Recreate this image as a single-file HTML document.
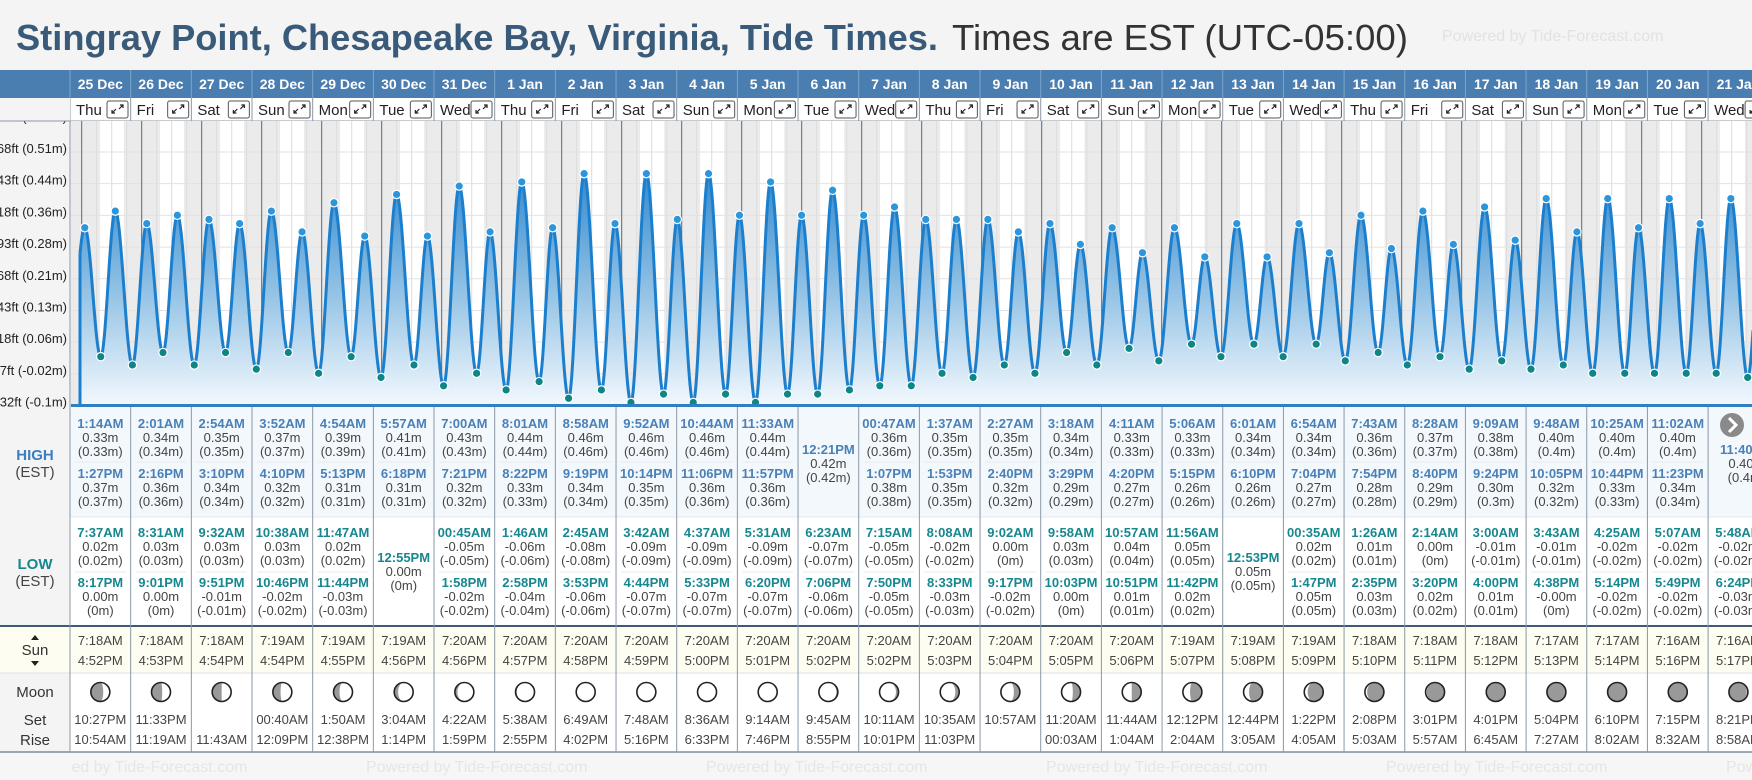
<!DOCTYPE html>
<html><head><meta charset="utf-8">
<style>
html,body{margin:0;padding:0;background:#f4f4f4;}
svg{display:block;font-family:"Liberation Sans",sans-serif;}
</style></head>
<body>
<svg id="page" width="1752" height="780" viewBox="0 0 1752 780" xmlns="http://www.w3.org/2000/svg">
<defs>
<linearGradient id="fillGrad" gradientUnits="userSpaceOnUse" x1="0" y1="170" x2="0" y2="405">
<stop offset="0" stop-color="#2f88cf"/><stop offset="0.5" stop-color="#8fc0e4"/><stop offset="1" stop-color="#f2f8fd"/>
</linearGradient>
<clipPath id="chartClip"><rect x="71" y="121" width="1681" height="284"/></clipPath>
<clipPath id="footClip"><rect x="71" y="752" width="1681" height="28"/></clipPath>
</defs>
<rect x="0" y="0" width="1752" height="780" fill="#f4f4f4"/>
<text x="16" y="50" font-size="36" font-weight="bold" fill="#395a79" textLength="922" lengthAdjust="spacingAndGlyphs">Stingray Point, Chesapeake Bay, Virginia, Tide Times.</text>
<text x="952" y="50" font-size="36" fill="#333" textLength="456" lengthAdjust="spacingAndGlyphs">Times are EST (UTC-05:00)</text>
<text x="1442" y="41" font-size="16" fill="#e2e2e2">Powered by Tide-Forecast.com</text>
<g id="root"></g>
</svg>
<script>
// ---- data ----
const dates = ['25 Dec','26 Dec','27 Dec','28 Dec','29 Dec','30 Dec','31 Dec','1 Jan','2 Jan','3 Jan','4 Jan','5 Jan','6 Jan','7 Jan','8 Jan','9 Jan','10 Jan','11 Jan','12 Jan','13 Jan','14 Jan','15 Jan','16 Jan','17 Jan','18 Jan','19 Jan','20 Jan','21 Jan'];
const dows = ['Thu','Fri','Sat','Sun','Mon','Tue','Wed','Thu','Fri','Sat','Sun','Mon','Tue','Wed','Thu','Fri','Sat','Sun','Mon','Tue','Wed','Thu','Fri','Sat','Sun','Mon','Tue','Wed'];
const highTimes = [['1:14AM','1:27PM'],['2:01AM','2:16PM'],['2:54AM','3:10PM'],['3:52AM','4:10PM'],['4:54AM','5:13PM'],['5:57AM','6:18PM'],['7:00AM','7:21PM'],['8:01AM','8:22PM'],['8:58AM','9:19PM'],['9:52AM','10:14PM'],['10:44AM','11:06PM'],['11:33AM','11:57PM'],['12:21PM'],['00:47AM','1:07PM'],['1:37AM','1:53PM'],['2:27AM','2:40PM'],['3:18AM','3:29PM'],['4:11AM','4:20PM'],['5:06AM','5:15PM'],['6:01AM','6:10PM'],['6:54AM','7:04PM'],['7:43AM','7:54PM'],['8:28AM','8:40PM'],['9:09AM','9:24PM'],['9:48AM','10:05PM'],['10:25AM','10:44PM'],['11:02AM','11:23PM'],['11:40AM']];
const highVals = [[0.33,0.37],[0.34,0.36],[0.35,0.34],[0.37,0.32],[0.39,0.31],[0.41,0.31],[0.43,0.32],[0.44,0.33],[0.46,0.34],[0.46,0.35],[0.46,0.36],[0.44,0.36],[0.42],[0.36,0.38],[0.35,0.35],[0.35,0.32],[0.34,0.29],[0.33,0.27],[0.33,0.26],[0.34,0.26],[0.34,0.27],[0.36,0.28],[0.37,0.29],[0.38,0.30],[0.40,0.32],[0.40,0.33],[0.40,0.34],[0.40]];
const lowTimes = [['7:37AM','8:17PM'],['8:31AM','9:01PM'],['9:32AM','9:51PM'],['10:38AM','10:46PM'],['11:47AM','11:44PM'],['12:55PM'],['00:45AM','1:58PM'],['1:46AM','2:58PM'],['2:45AM','3:53PM'],['3:42AM','4:44PM'],['4:37AM','5:33PM'],['5:31AM','6:20PM'],['6:23AM','7:06PM'],['7:15AM','7:50PM'],['8:08AM','8:33PM'],['9:02AM','9:17PM'],['9:58AM','10:03PM'],['10:57AM','10:51PM'],['11:56AM','11:42PM'],['12:53PM'],['00:35AM','1:47PM'],['1:26AM','2:35PM'],['2:14AM','3:20PM'],['3:00AM','4:00PM'],['3:43AM','4:38PM'],['4:25AM','5:14PM'],['5:07AM','5:49PM'],['5:48AM','6:24PM']];
const lowVals = [[0.02,0.00],[0.03,0.00],[0.03,-0.01],[0.03,-0.02],[0.02,-0.03],[0.00],[-0.05,-0.02],[-0.06,-0.04],[-0.08,-0.06],[-0.09,-0.07],[-0.09,-0.07],[-0.09,-0.07],[-0.07,-0.06],[-0.05,-0.05],[-0.02,-0.03],[0.00,-0.02],[0.03,0.00],[0.04,0.01],[0.05,0.02],[0.05],[0.02,0.05],[0.01,0.03],[0.00,0.02],[-0.01,0.01],[-0.01,-0],[-0.02,-0.02],[-0.02,-0.02],[-0.02,-0.03]];
const prevLow = {day:-1, time:'6:30PM', val:0.00};
const nextHigh = {day:28, time:'12:05AM', val:0.34};
const sunRise = ['7:18AM','7:18AM','7:18AM','7:19AM','7:19AM','7:19AM','7:20AM','7:20AM','7:20AM','7:20AM','7:20AM','7:20AM','7:20AM','7:20AM','7:20AM','7:20AM','7:20AM','7:20AM','7:19AM','7:19AM','7:19AM','7:18AM','7:18AM','7:18AM','7:17AM','7:17AM','7:16AM','7:16AM'];
const sunSet = ['4:52PM','4:53PM','4:54PM','4:54PM','4:55PM','4:56PM','4:56PM','4:57PM','4:58PM','4:59PM','5:00PM','5:01PM','5:02PM','5:02PM','5:03PM','5:04PM','5:05PM','5:06PM','5:07PM','5:08PM','5:09PM','5:10PM','5:11PM','5:12PM','5:13PM','5:14PM','5:16PM','5:17PM'];
const moonSet = ['10:27PM','11:33PM','','00:40AM','1:50AM','3:04AM','4:22AM','5:38AM','6:49AM','7:48AM','8:36AM','9:14AM','9:45AM','10:11AM','10:35AM','10:57AM','11:20AM','11:44AM','12:12PM','12:44PM','1:22PM','2:08PM','3:01PM','4:01PM','5:04PM','6:10PM','7:15PM','8:21PM'];
const moonRise = ['10:54AM','11:19AM','11:43AM','12:09PM','12:38PM','1:14PM','1:59PM','2:55PM','4:02PM','5:16PM','6:33PM','7:46PM','8:55PM','10:01PM','11:03PM','','00:03AM','1:04AM','2:04AM','3:05AM','4:05AM','5:03AM','5:57AM','6:45AM','7:27AM','8:02AM','8:32AM','8:58AM'];
const moonPhase = [0.20,0.23,0.25,0.28,0.31,0.35,0.38,0.42,0.45,0.49,0.52,0.55,0.59,0.62,0.65,0.69,0.72,0.75,0.79,0.82,0.86,0.89,0.92,0.96,0.99,0.02,0.05,0.08];
const yTicksFt = ['-0.32ft','-0.07ft','0.18ft','0.43ft','0.68ft','0.93ft','1.18ft','1.43ft','1.68ft','1.93ft'];
const yTicksM = [-0.1,-0.02,0.06,0.13,0.21,0.28,0.36,0.44,0.51,0.59];
const yTicksExact = [-0.0975,-0.0213,0.0549,0.1311,0.2073,0.2835,0.3597,0.4359,0.5121,0.5883];

// ---- scales ----
const NS='http://www.w3.org/2000/svg';
const root=document.getElementById('root');
const COLX0=70, COLW=60.67, MID0=81.7, DAYW=60;
const colX=i=>COLX0+COLW*i;
const xTime=d=>MID0+DAYW*d;
const yScale=m=>365-416*m;
function parseT(s){const m=s.match(/(\d+):(\d+)(AM|PM)/);let h=parseInt(m[1],10)%12;if(m[3]==='PM')h+=12;return (h+parseInt(m[2],10)/60)/24;}
function el(tag,attrs,parent,text){const e=document.createElementNS(NS,tag);for(const k in attrs)e.setAttribute(k,attrs[k]);if(text!==undefined)e.textContent=text;(parent||root).appendChild(e);return e;}
function fmt(v){return (Object.is(v,-0)?'-0.00':v.toFixed(2))+'m';}
function fmtP(v){return '('+String(parseFloat(v.toFixed(2)))+'m)';}

// ---- header rows ----
el('rect',{x:0,y:70,width:1752,height:28,fill:'#4a7db0'});
el('rect',{x:0,y:98,width:70,height:23,fill:'#f4f4f4'});
el('rect',{x:70,y:98,width:1682,height:23,fill:'#fff'});
dates.forEach((d,i)=>{
  const x=colX(i);
  const t=el('text',{x:x+COLW/2,y:89,'text-anchor':'middle','font-size':14,'font-weight':'bold',fill:'#fff'},root,d);
  
  
  el('line',{x1:x,y1:70,x2:x,y2:98,stroke:'#7ea6cc','stroke-width':1});
  const dt=el('text',{x:x+6,y:115,'font-size':15,fill:'#222'},root,dows[i]);
  
  
  const b=el('g',{},root);
  
  
  el('rect',{x:x+37,y:101,width:21,height:17,rx:2,fill:'#fff',stroke:'#555','stroke-width':1},b);
  el('path',{d:`M${x+42} 113l4-4M${x+42} 110v3h3M${x+53} 105l-4 4M${x+50} 105h3v3`,stroke:'#222','stroke-width':1.2,fill:'none'},b);
  el('line',{x1:x,y1:98,x2:x,y2:121,stroke:'#8a98a6','stroke-width':1});
});
el('line',{x1:0,y1:121,x2:1752,y2:121,stroke:'#8a98a6','stroke-width':1});

// ---- chart ----
const chart=el('g',{'clip-path':'url(#chartClip)'});


el('rect',{x:71,y:121,width:1681,height:284,fill:'#ebebeb'},chart);
for(let i=-1;i<28;i++){
  const sr=xTime(i+parseT(sunRise[Math.max(i,0)])), ss=xTime(i+parseT(sunSet[Math.max(i,0)]));
  const r=el('rect',{x:sr,y:121,width:ss-sr,height:284,fill:'#fff'},chart);
  
  
  for(let h=6;h<24;h+=6) el('line',{x1:xTime(i+h/24),y1:121,x2:xTime(i+h/24),y2:405,stroke:'#dcdcdc','stroke-width':1},chart);
}
yTicksExact.forEach(m=>el('line',{x1:71,y1:yScale(m),x2:1752,y2:yScale(m),stroke:'#e2e2e2','stroke-width':1},chart));
for(let i=0;i<=28;i++){
  const l=el('line',{x1:xTime(i),y1:121,x2:xTime(i),y2:405,stroke:'#56697c','stroke-width':1},chart);
  
  
}
const ext=[];
ext.push({t:prevLow.day+parseT(prevLow.time),v:prevLow.val,type:'x'});
for(let i=0;i<28;i++){
  highTimes[i].forEach((s,j)=>ext.push({t:i+parseT(s),v:highVals[i][j],type:'h'}));
  lowTimes[i].forEach((s,j)=>ext.push({t:i+parseT(s),v:lowVals[i][j],type:'l'}));
}
ext.push({t:nextHigh.day+parseT(nextHigh.time),v:nextHigh.val,type:'x'});
ext.sort((a,b)=>a.t-b.t);
function tideAt(t){
  for(let k=0;k<ext.length-1;k++){const a=ext[k],b=ext[k+1];if(t>=a.t&&t<=b.t){const f=(t-a.t)/(b.t-a.t);return a.v+(b.v-a.v)*(1-Math.cos(Math.PI*f))/2;}}
  return ext[ext.length-1].v;
}
let pts=[];
const xStart=80;
for(let x=xStart;x<=1753;x+=0.5){const t=(x-MID0)/DAYW;pts.push([x,yScale(tideAt(t))]);}
const line='M'+pts.map(p=>p[0].toFixed(1)+' '+p[1].toFixed(1)).join('L');
const area=el('path',{d:line+`L1753 405L${xStart} 405Z`,fill:'url(#fillGrad)'},chart);


const tl=el('path',{d:line,fill:'none',stroke:'#1c7fcd','stroke-width':3,'stroke-linejoin':'round'},chart);


el('line',{x1:xStart,y1:yScale(tideAt((xStart-MID0)/DAYW)),x2:xStart,y2:405,stroke:'#1c7fcd','stroke-width':3},chart);
ext.forEach(e=>{
  if(e.type==='x')return;
  const c=el('circle',{cx:xTime(e.t),cy:yScale(e.v),r:4.2,fill:e.type==='h'?'#2c96dc':'#0f8585',stroke:'#fff','stroke-width':1.2},chart);
  
  
});
el('line',{x1:71,y1:405.5,x2:1752,y2:405.5,stroke:'#2f7fc2','stroke-width':3});
el('line',{x1:70,y1:98,x2:70,y2:752,stroke:'#8a98a6','stroke-width':1});
yTicksExact.forEach((m,k)=>{
  const t=el('text',{x:67,y:yScale(m)+1,'text-anchor':'end','font-size':13,fill:'#222'},root,yTicksFt[k]+' ('+yTicksM[k]+'m)');
  
  
});
el('rect',{x:0,y:98,width:70,height:23,fill:'#f4f4f4'});
el('line',{x1:0,y1:121,x2:70,y2:121,stroke:'#8a98a6','stroke-width':1});

// ---- table ----
el('rect',{x:70,y:407,width:1682,height:110,fill:'#f3f8fd'});
el('rect',{x:70,y:517,width:1682,height:109,fill:'#fff'});
el('rect',{x:0,y:627,width:1752,height:46,fill:'#fdfdf1'});
el('rect',{x:70,y:673,width:1682,height:79,fill:'#fff'});
el('rect',{x:0,y:752,width:1752,height:28,fill:'#f6f6f6'});
el('line',{x1:70,y1:517,x2:1752,y2:517,stroke:'#e4e9ee','stroke-width':1});
el('line',{x1:0,y1:626,x2:1752,y2:626,stroke:'#3d5a76','stroke-width':2});
el('line',{x1:0,y1:673,x2:1752,y2:673,stroke:'#e2e2e2','stroke-width':1});
el('line',{x1:0,y1:752,x2:1752,y2:752,stroke:'#3d5a76','stroke-width':1});
function lbl(x,y,txt,size,color,weight,name){const t=el('text',{x:x,y:y,'text-anchor':'middle','font-size':size,fill:color,'font-weight':weight||'normal'},root,txt);return t;}
lbl(35,460,'HIGH',15,'#3a7fc1','bold','high-row-label');
lbl(35,477,'(EST)',15,'#444','normal','high-row-tz');
lbl(35,569,'LOW',15,'#17878f','bold','low-row-label');
lbl(35,586,'(EST)',15,'#444','normal','low-row-tz');
lbl(35,655,'Sun',15,'#333','normal','sun-row-label');
el('path',{d:'M31 640l4-5l4 5zM31 661l4 5l4-5z',fill:'#222'});
lbl(35,697,'Moon',15,'#333','normal','moon-row-label');
lbl(35,725,'Set',15,'#333','normal','moonset-row-label');
lbl(35,745,'Rise',15,'#333','normal','moonrise-row-label');

function entry(cx,yT,time,val,color,name){
  const t=el('text',{x:cx,y:yT,'text-anchor':'middle','font-size':13,'font-weight':'bold',fill:color},root,time);
  
  
  const v=el('text',{x:cx,y:yT+14,'text-anchor':'middle','font-size':13,fill:'#444'},root,fmt(val));
  
  
  el('text',{x:cx,y:yT+28,'text-anchor':'middle','font-size':13,fill:'#444'},root,fmtP(val));
}
for(let i=0;i<28;i++){
  const x=colX(i), cx=x+COLW/2;
  el('line',{x1:x,y1:407,x2:x,y2:752,stroke:'#8a98a6','stroke-width':1});
  if(highTimes[i].length===2){
    entry(cx,428,highTimes[i][0],highVals[i][0],'#4a80b8','high-tide');
    el('line',{x1:x+5,y1:462,x2:x+COLW-5,y2:462,stroke:'#e6ecf2','stroke-width':1});
    entry(cx,478,highTimes[i][1],highVals[i][1],'#4a80b8','high-tide');
  } else entry(i===27?cx+8:cx,454,highTimes[i][0],highVals[i][0],'#4a80b8','high-tide');
  if(lowTimes[i].length===2){
    entry(cx,537,lowTimes[i][0],lowVals[i][0],'#17878f','low-tide');
    el('line',{x1:x+5,y1:572,x2:x+COLW-5,y2:572,stroke:'#e6ecf2','stroke-width':1});
    entry(cx,587,lowTimes[i][1],lowVals[i][1],'#17878f','low-tide');
  } else entry(cx,562,lowTimes[i][0],lowVals[i][0],'#17878f','low-tide');
  const s1=el('text',{x:cx,y:645,'text-anchor':'middle','font-size':13,fill:'#444'},root,sunRise[i]);
  
  
  const s2=el('text',{x:cx,y:665,'text-anchor':'middle','font-size':13,fill:'#444'},root,sunSet[i]);
  
  
  const g=el('g',{},root);
  
  
  const my=692, r=9.5, p=moonPhase[i];
  el('circle',{cx:cx,cy:my,r:r,fill:'#999'},g);
  const rx=Math.abs(Math.cos(2*Math.PI*p))*r;
  let d;
  if(p<0.5){const sw=p<0.25?0:1;d=`M${cx} ${my-r}A${r} ${r} 0 0 1 ${cx} ${my+r}A${rx} ${r} 0 0 ${sw} ${cx} ${my-r}Z`;}
  else{const sw=p<0.75?0:1;d=`M${cx} ${my-r}A${r} ${r} 0 0 0 ${cx} ${my+r}A${rx} ${r} 0 0 ${sw} ${cx} ${my-r}Z`;}
  el('path',{d:d,fill:'#fff'},g);
  el('circle',{cx:cx,cy:my,r:r,fill:'none',stroke:'#222','stroke-width':1.6},g);
  const m1=el('text',{x:cx,y:724,'text-anchor':'middle','font-size':13,fill:'#444'},root,moonSet[i]);
  
  
  const m2=el('text',{x:cx,y:744,'text-anchor':'middle','font-size':13,fill:'#444'},root,moonRise[i]);
  
  
}
const nb=el('g',{},root);


el('circle',{cx:1732,cy:425,r:12,fill:'#8a8a8a'},nb);
el('path',{d:'M1729 418l7 7l-7 7',fill:'none',stroke:'#fff','stroke-width':3},nb);
const fg=el('g',{'clip-path':'url(#footClip)'});
[26,366,706,1046,1386,1726].forEach(x=>{
  const t=el('text',{x:x,y:772,'font-size':16,fill:'#e6e6e6'},fg,'Powered by Tide-Forecast.com');
  
  
});
</script>
</body></html>
